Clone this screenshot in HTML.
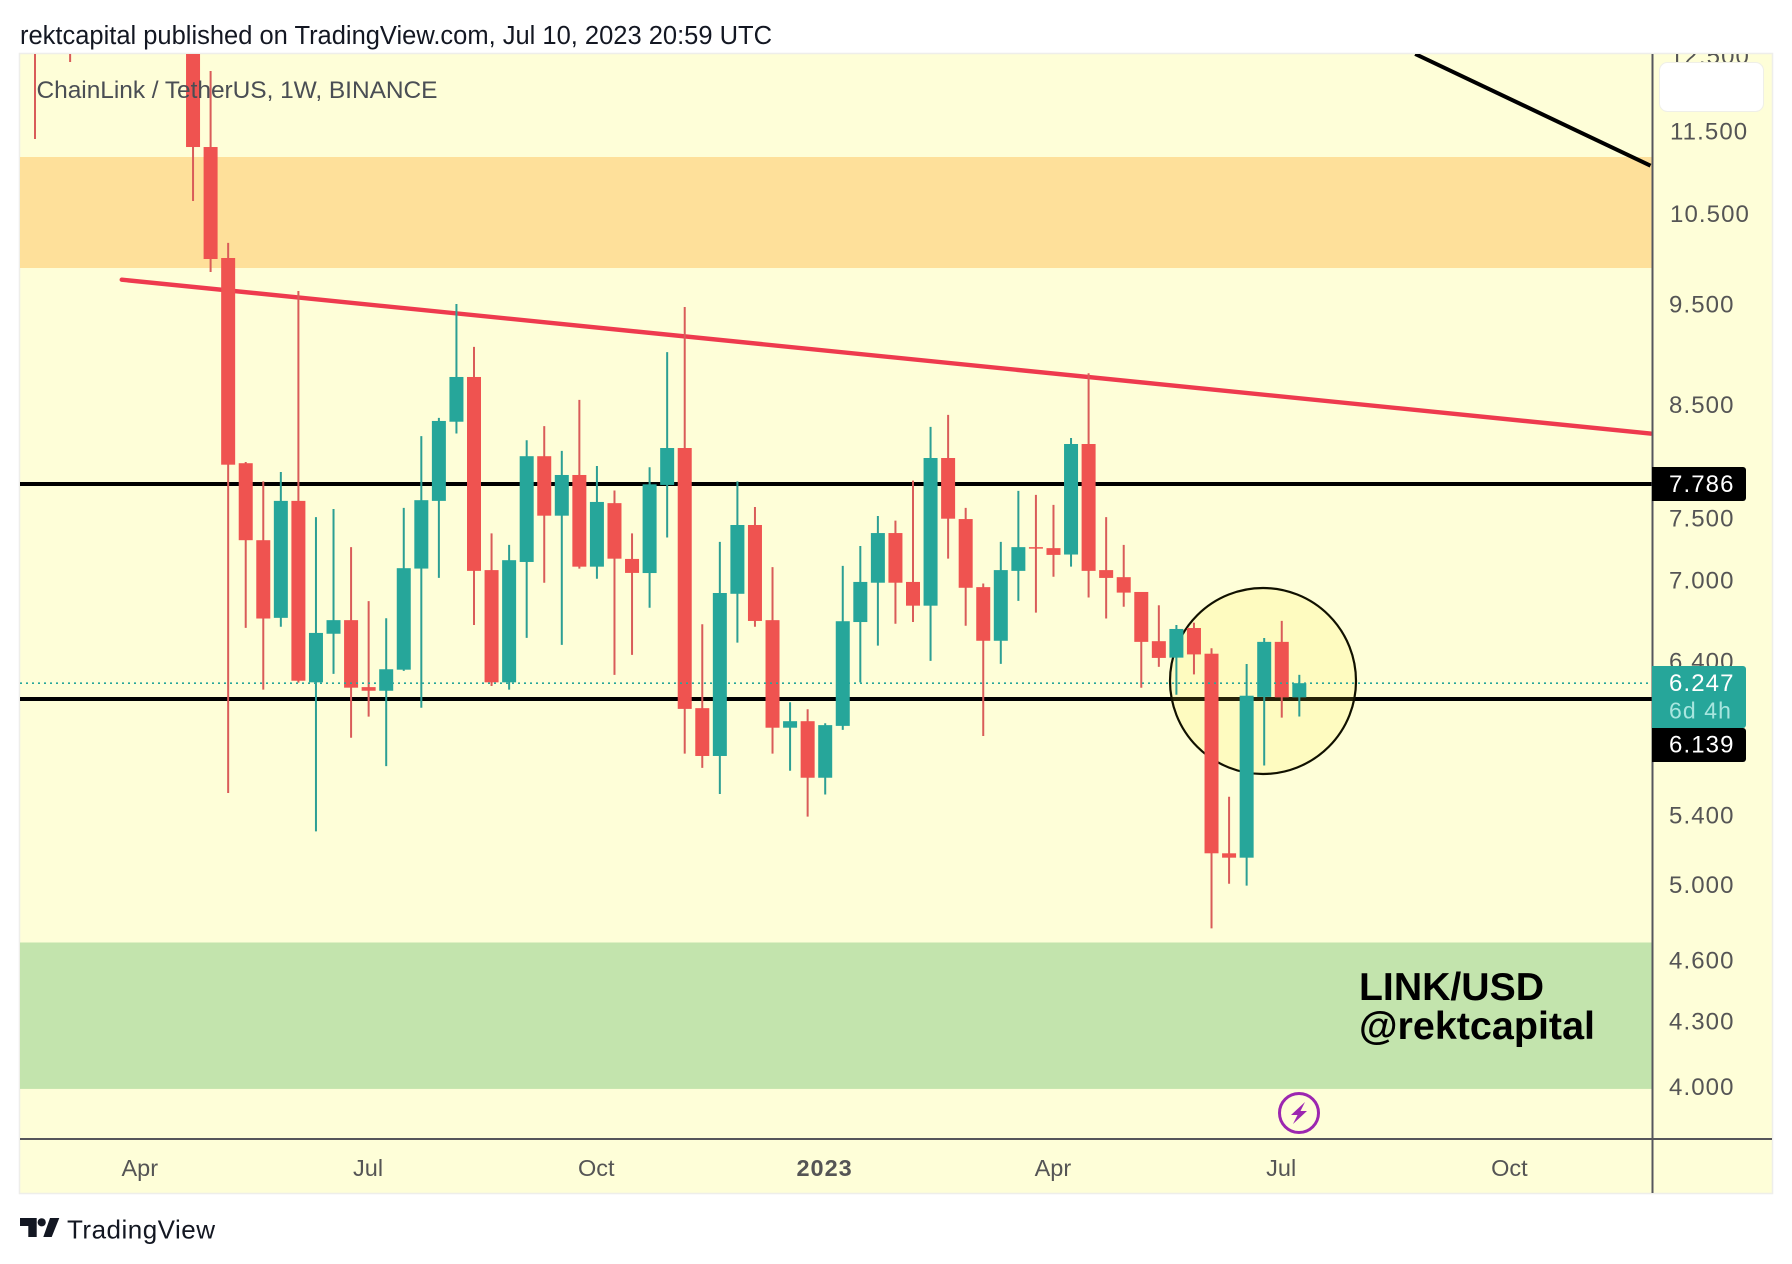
<!DOCTYPE html>
<html lang="en">
<head>
<meta charset="utf-8">
<title>LINK/USD weekly chart</title>
<style>
html,body{margin:0;padding:0;background:#fff;width:1792px;height:1264px;overflow:hidden}
svg{display:block;font-family:"Liberation Sans",sans-serif}
</style>
</head>
<body>
<svg id="chart" xmlns="http://www.w3.org/2000/svg" width="1792" height="1264" viewBox="0 0 1792 1264">
  <defs>
    <clipPath id="plot-clip"><rect x="20" y="54" width="1632" height="1085"></rect></clipPath>
    <clipPath id="frame-clip"><rect x="20" y="54" width="1752" height="1139"></rect></clipPath>
  </defs>
  <rect x="0" y="0" width="1792" height="1264" fill="#ffffff"></rect>
  <text x="20" y="44" font-size="25.5" fill="#131722" textLength="752" lengthAdjust="spacing">rektcapital published on TradingView.com, Jul 10, 2023 20:59 UTC</text>
  <rect x="19.5" y="53.5" width="1753" height="1140" fill="#fefed8" stroke="#eeeeea" stroke-width="1.5"></rect>
  <g id="bands" clip-path="url(#plot-clip)"></g>
  <g id="levels" clip-path="url(#plot-clip)"></g>
  <g id="trendlines" clip-path="url(#plot-clip)"></g>
  <circle cx="1263" cy="681" r="93" fill="#ffeb3b" fill-opacity="0.15" stroke="#111100" stroke-width="2.2"></circle>
  <g id="candles" clip-path="url(#plot-clip)"></g>
  <g id="price-line" clip-path="url(#plot-clip)"></g>
  <text x="36.5" y="98" font-size="24.5" fill="#4a4e54" textLength="401" lengthAdjust="spacing">ChainLink / TetherUS, 1W, BINANCE</text>
  <text x="1359" y="1000" font-size="38.5" font-weight="700" fill="#000000" textLength="185" lengthAdjust="spacingAndGlyphs">LINK/USD</text>
  <text x="1359" y="1039" font-size="38.5" font-weight="700" fill="#000000" textLength="236" lengthAdjust="spacingAndGlyphs">@rektcapital</text>
  <g>
    <circle cx="1299" cy="1113" r="19.5" fill="#fefed8" stroke="#9c27b0" stroke-width="3"></circle>
    <polygon points="1305,1102 1291,1115 1297.5,1115 1293,1124 1307,1111 1300.5,1111" fill="#9c27b0"></polygon>
  </g>
  <line x1="1652.5" y1="54" x2="1652.5" y2="1193" stroke="#55565e" stroke-width="2"></line>
  <line x1="20" y1="1139" x2="1772" y2="1139" stroke="#55555a" stroke-width="2"></line>
  <g id="price-ticks" clip-path="url(#frame-clip)"></g>
  <g id="time-ticks"></g>
  <rect x="1659.5" y="62.5" width="104" height="49" rx="8" fill="#ffffff" stroke="#efefe8" stroke-width="1"></rect>
  <g>
    <path d="M1652 467H1743a3 3 0 0 1 3 3V498a3 3 0 0 1 -3 3H1652Z" fill="#000000"></path>
    <text x="1669" y="492" font-size="24" letter-spacing="1.1" fill="#ffffff">7.786</text>
  </g>
  <g>
    <path d="M1652 666H1743a3 3 0 0 1 3 3V725a3 3 0 0 1 -3 3H1652Z" fill="#26a69a"></path>
    <text x="1669" y="691" font-size="24" letter-spacing="1.1" fill="#ffffff">6.247</text>
    <text x="1669" y="718.5" font-size="23" letter-spacing="1.1" fill="#a8e6df">6d 4h</text>
  </g>
  <g>
    <path d="M1652 728H1743a3 3 0 0 1 3 3V759a3 3 0 0 1 -3 3H1652Z" fill="#000000"></path>
    <text x="1669" y="752.5" font-size="24" letter-spacing="1.1" fill="#ffffff">6.139</text>
  </g>
  <g>
    <polygon points="20,1218 36.7,1218 36.7,1237 28.3,1237 28.3,1226 20,1226" fill="#131722"></polygon>
    <circle cx="41.7" cy="1222.3" r="4.1" fill="#131722"></circle>
    <polygon points="50,1218 59.3,1218 51.7,1237 43.3,1237" fill="#131722"></polygon>
    <text x="67" y="1238.5" font-size="26" fill="#131722" textLength="148" lengthAdjust="spacing">TradingView</text>
  </g>
</svg>
<script>
/* Weekly candles, oldest first (bars 0-10 are mostly above the visible range) */
const opens = [15.0,15.0,15.4,16.2,16.8,15.8,15.0,14.6,14.2,13.5,11.301,9.996,7.967,7.317,6.715,7.642,6.253,6.598,6.698,6.220,6.195,6.341,7.091,7.642,8.341,8.764,7.079,6.253,7.143,8.029,7.518,7.864,7.106,7.623,7.167,7.056,7.778,8.102,6.077,5.764,6.896,7.441,6.698,5.947,5.990,5.627,5.959,6.684,6.981,7.375,6.987,6.806,8.013,7.490,6.947,6.547,7.073,7.261,7.253,7.202,8.138,7.079,7.024,6.910,6.544,6.426,6.640,6.454,5.176,5.151,6.153,6.539,6.150];
const highs = [16.0,15.8,15.9,16.8,17.2,16.6,16.0,15.4,15.0,14.0,12.292,10.164,7.978,7.809,7.890,9.638,7.506,7.574,7.261,6.840,6.712,7.583,8.209,8.376,9.500,9.060,7.372,7.279,8.172,8.300,8.076,8.545,7.942,7.730,7.372,7.931,9.008,9.469,6.668,7.303,7.809,7.590,7.102,6.117,6.070,5.976,7.112,7.270,7.515,7.477,7.815,8.294,8.404,7.583,6.975,7.303,7.727,7.693,7.608,8.192,8.800,7.506,7.279,6.910,6.809,6.662,6.679,6.493,5.510,6.381,6.567,6.693,6.305];
const lows = [11.402,12.9,12.415,13.6,14.4,13.9,13.2,13.0,12.8,10.646,9.842,5.533,6.641,6.203,6.649,6.251,5.303,6.312,5.881,6.020,5.700,6.333,6.080,7.018,8.233,6.662,6.228,6.203,6.568,6.981,6.517,7.091,7.012,6.305,6.446,6.790,7.339,5.779,5.689,5.527,6.534,6.649,5.779,5.671,5.390,5.524,5.933,6.253,6.512,6.671,6.684,6.403,7.169,6.657,5.893,6.382,6.842,6.754,7.027,7.106,6.868,6.710,6.798,6.216,6.361,6.168,6.308,4.764,5.005,4.994,5.704,6.014,6.021];
const closes = [14.4,14.4,14.6,15.4,16.2,15.0,14.6,14.2,13.5,11.301,9.985,7.954,7.317,6.710,7.642,6.264,6.604,6.698,6.216,6.195,6.344,7.094,7.648,8.348,8.764,7.073,6.253,7.157,8.029,7.518,7.864,7.106,7.633,7.169,7.057,7.783,8.102,6.072,5.764,6.902,7.441,6.692,5.947,5.990,5.627,5.964,6.690,6.987,7.375,6.981,6.806,8.013,7.493,6.942,6.547,7.079,7.261,7.253,7.199,8.138,7.073,7.018,6.905,6.539,6.424,6.633,6.449,5.176,5.151,6.161,6.539,6.150,6.247];

const priceTicks = [12.5,11.5,10.5,9.5,8.5,7.5,7,6.4,5.4,5,4.6,4.3,4];
const priceTickLabels = ["12.500","11.500","10.500","9.500","8.500","7.500","7.000","6.400","5.400","5.000","4.600","4.300","4.000"];
const timeTickBars = [6,19,32,45,58,71,84];
const timeTickLabels = ["Apr","Jul","Oct","2023","Apr","Jul","Oct"];
const levelPrices = [7.786,6.139];
const lastPrice = 6.247;
const resistanceZone = [11.177,9.886];
const supportZone = [4.69,3.989];
/* trendline anchors: [bar, price] */
const redTrend = [[4.94,9.759],[92,8.232]];
const blackTrend = [[78.6,12.525],[92,11.07]];

const NS = "http://www.w3.org/2000/svg";
const axisY = function (price) { return 484 + 904.5 * Math.log(7.786 / price); };
const axisX = function (bar) { return 35 + 17.56 * bar; };
const UP = "#26a69a", DOWN = "#ef5350", UP_WICK = "#2c9f94", DOWN_WICK = "#d95c59";
const BODY_W = 14;

function make(tag, attrs, parent) {
  const el = document.createElementNS(NS, tag);
  Object.keys(attrs).forEach(function (k) { el.setAttribute(k, attrs[k]); });
  parent.appendChild(el);
  return el;
}

/* zones */
const bands = document.getElementById("bands");
const zoneA = make("rect", {x:20, y:axisY(resistanceZone[0]), width:1632, height:axisY(resistanceZone[1])-axisY(resistanceZone[0]), fill:"#fee09a"}, bands);


const zoneB = make("rect", {x:20, y:axisY(supportZone[0]), width:1632, height:axisY(supportZone[1])-axisY(supportZone[0]), fill:"#c3e4ad"}, bands);



/* horizontal levels */
const levels = document.getElementById("levels");
levelPrices.forEach(function (p) {
  const l = make("line", {x1:20, x2:1652, y1:axisY(p), y2:axisY(p), stroke:"#000000", "stroke-width":4}, levels);
  
  
});

/* trendlines */
const trends = document.getElementById("trendlines");
const redLine = make("line", {x1:axisX(redTrend[0][0]), y1:axisY(redTrend[0][1]), x2:axisX(redTrend[1][0]), y2:axisY(redTrend[1][1]), stroke:"#ee3a4e", "stroke-width":4.4, "stroke-linecap":"round"}, trends);


const blackLine = make("line", {x1:axisX(blackTrend[0][0]), y1:axisY(blackTrend[0][1]), x2:axisX(blackTrend[1][0]), y2:axisY(blackTrend[1][1]), stroke:"#000000", "stroke-width":4}, trends);



/* candles */
const candleLayer = document.getElementById("candles");
opens.forEach(function (o, i) {
  const c = closes[i];
  const up = c >= o;
  const x = axisX(i);
  const g = make("g", {}, candleLayer);
  
  
  const wick = make("line", {x1:x, x2:x, y1:axisY(highs[i]), y2:axisY(lows[i]), stroke:up?UP_WICK:DOWN_WICK, "stroke-width":2}, g);
  
  
  const top = axisY(Math.max(o, c));
  const bottom = axisY(Math.min(o, c));
  const body = make("rect", {x:x-BODY_W/2, y:top, width:BODY_W, height:Math.max(bottom-top,1.5), fill:up?UP:DOWN}, g);
  
  
});

/* last price dotted line */
const pl = make("line", {x1:20, x2:1648, y1:axisY(lastPrice), y2:axisY(lastPrice), stroke:"#26a69a", "stroke-width":1.6, "stroke-dasharray":"2 4"}, document.getElementById("price-line"));



/* axis labels */
const priceGroup = document.getElementById("price-ticks");
priceTicks.forEach(function (p, i) {
  const t = make("text", {x:priceTickLabels[i].length > 5 ? 1670 : 1669, y:axisY(p)+8.4, "font-size":24, "letter-spacing":1.1, fill:"#555555"}, priceGroup);
  
  
  t.textContent = priceTickLabels[i];
});
const timeGroup = document.getElementById("time-ticks");
timeTickBars.forEach(function (b, i) {
  const isYear = timeTickLabels[i] === "2023";
  const t = make("text", {x:axisX(b)-0.6, y:1176, "font-size":23.5, "text-anchor":"middle", "letter-spacing":isYear?1:0, "font-weight":isYear?700:400, fill:"#555555"}, timeGroup);
  
  
  t.textContent = timeTickLabels[i];
});
</script>
</body>
</html>
